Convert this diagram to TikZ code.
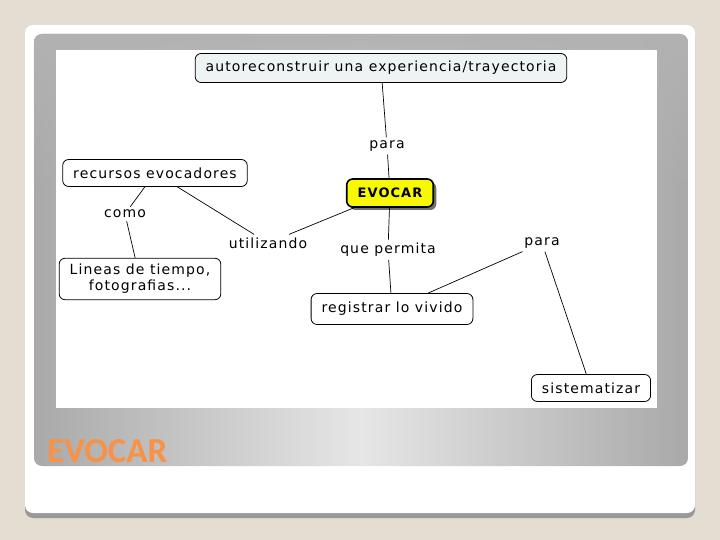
\documentclass[tikz,border=0pt]{standalone}
\usepackage{fontspec}
\setmainfont{DejaVu Sans}
\newfontfamily\mapafont[LetterSpace=8]{DejaVu Sans}
\newfontfamily\titlefont{Carlito}
\usetikzlibrary{fadings,shadows}

\definecolor{fondo}{HTML}{E3DDD2}
\definecolor{marco}{HTML}{A9A9A9}
\definecolor{marcoclaro}{HTML}{E6E6E6}
\definecolor{caja}{HTML}{EEF4F4}
\definecolor{amarillo}{HTML}{F8F800}
\definecolor{naranja}{HTML}{F79246}

\tikzfading[name=fadedown, top color=transparent!0, bottom color=transparent!100]

\begin{document}
\begin{tikzpicture}[x=1pt,y=-1pt,
    concepto/.style={draw, rounded corners=6pt, fill=white, line width=0.8pt,
      inner xsep=10.5pt, inner ysep=4pt, minimum height=27pt, font=\mapafont\fontsize{14}{16}\selectfont},
    enlace/.style={inner sep=3pt, font=\mapafont\fontsize{14}{16}\selectfont},
    linea/.style={line width=0.7pt}]
    \useasboundingbox (0,0) rectangle (720,540);

    % Fondo y diapositiva
    \fill[fondo] (0,0) rectangle (720,540);
    \fill[black!40, rounded corners=8pt] (25,27) rectangle (695,518);
    \fill[white, rounded corners=8pt] (25,25) rectangle (695,513);
    \shade[rounded corners=8pt, left color=marco, right color=marco, middle color=marcoclaro]
        (34,34) rectangle (688,466);
    \fill[black!30, path fading=fadedown, rounded corners=8pt] (34,34) rectangle (688,200);
    \fill[white] (56,50) rectangle (657,408);

    % Conceptos
    \node[concepto, fill=caja, minimum height=29pt] (auto) at (381,68) {autoreconstruir una experiencia/trayectoria};
    \node[concepto, fill=amarillo, line width=1.6pt, minimum height=28pt, inner xsep=11pt,
      font=\mapafont\fontsize{13}{15}\selectfont\bfseries,
      drop shadow={shadow xshift=3pt, shadow yshift=-3pt, fill=black!70, opacity=0.8}] (evocar) at (390,193) {EVOCAR};
    \node[concepto] (recursos) at (155,173) {recursos evocadores};
    \node[concepto, align=center, inner ysep=6pt] (lineas) at (140,279) {Lineas de tiempo,\\fotografias...};
    \node[concepto, minimum height=31pt] (registrar) at (392,309) {registrar lo vivido};
    \node[concepto] (sistem) at (591,388) {sistematizar};

    % Frases de enlace
    \node[enlace] (para1) at (387,146) {para};
    \node[enlace] (como) at (125,214) {como};
    \node[enlace] (utilizando) at (268,243) {utilizando};
    \node[enlace] (permita) at (388,250) {que permita};
    \node[enlace] (para2) at (542,243) {para};

    % Conexiones
    \draw[linea] (auto) -- (para1);
    \draw[linea] (para1) -- (evocar);
    \draw[linea] (evocar) -- (utilizando);
    \draw[linea] (recursos) -- (utilizando);
    \draw[linea] (recursos) -- (como);
    \draw[linea] (como) -- (lineas);
    \draw[linea] (evocar) -- (permita);
    \draw[linea] (permita) -- (registrar);
    \draw[linea] (registrar) -- (para2);
    \draw[linea] (para2) -- (sistem);

    % Titulo
    \node[anchor=base west, inner sep=0pt, text=naranja, font=\titlefont\bfseries\fontsize{35}{40}\selectfont] (titulo) at (47,462) {EVOCAR};
\end{tikzpicture}
\end{document}
